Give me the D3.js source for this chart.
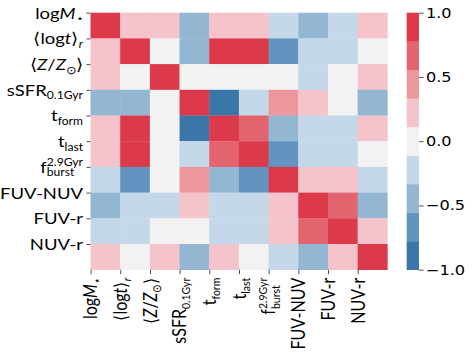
<!DOCTYPE html>
<html>
<head>
<meta charset="utf-8">
<script src="https://cdn.jsdelivr.net/npm/d3@7"></script>
<style>
  body { margin: 0; background: #fff; }
  svg { display: block; }
</style>
</head>
<body>
<div id="chart"></div>
<script>
// labels, as pieces: [text, kind]  kind: i = italic, sub / isub = subscript, sup = superscript over the previous subscript
const labels = [
  [["log"], ["M", "i"], ["\u22c6", "sub"]],
  [["\u27e8log"], ["t", "i"], ["\u27e9"], ["r", "isub"]],
  [["\u27e8"], ["Z", "i"], ["/"], ["Z", "i"], ["\u2299", "sub"], ["\u27e9"]],
  [["sSFR"], ["0.1Gyr", "sub"]],
  [["t"], ["form", "sub"]],
  [["t"], ["last", "sub"]],
  [["f"], ["burst", "sub"], ["2.9Gyr", "sup"]],
  [["FUV-NUV"]],
  [["FUV-r"]],
  [["NUV-r"]]
];

const corr = [
  [ 1.00,  0.28,  0.26, -0.45,  0.30,  0.27, -0.22, -0.42, -0.24,  0.29],
  [ 0.28,  1.00,  0.05, -0.47,  0.85,  0.88, -0.62, -0.25, -0.20,  0.06],
  [ 0.26,  0.05,  1.00,  0.03, -0.02,  0.01,  0.04, -0.18,  0.08,  0.25],
  [-0.45, -0.47,  0.03,  1.00, -0.86, -0.26,  0.50,  0.30,  0.04, -0.42],
  [ 0.30,  0.85, -0.02, -0.86,  1.00,  0.72, -0.44, -0.20, -0.21,  0.27],
  [ 0.27,  0.88,  0.01, -0.26,  0.72,  1.00, -0.64, -0.22, -0.20,  0.09],
  [-0.22, -0.62,  0.04,  0.50, -0.44, -0.64,  1.00,  0.26,  0.24, -0.20],
  [-0.42, -0.25, -0.18,  0.30, -0.20, -0.22,  0.26,  1.00,  0.70, -0.46],
  [-0.24, -0.20,  0.08,  0.04, -0.21, -0.20,  0.24,  0.70,  1.00,  0.30],
  [ 0.29,  0.06,  0.25, -0.42,  0.27,  0.09, -0.20, -0.46,  0.30,  1.00]
];

const cbTicks = [-1, -0.5, 0, 0.5, 1];

const palette = ['#3b76a8', '#6394bf', '#93b6d2', '#c5d8e9', '#f2f2f2',
                 '#f5c4cb', '#ec969e', '#e2646f', '#dc3a4b'];

const W = 474, H = 361;
const S = 1.155;           // picture is stretched sideways
const padL = 78.35, padT = 12.7, cell = 25.7;
const n = labels.length;

const svg = d3.select("#chart").append("svg")
    .attr("width", W)
    .attr("height", H);

const g = svg.append("g").attr("transform", `scale(${S},1)`);

const x = d3.scaleLinear().domain([0, n]).range([padL, padL + n * cell]);
const y = d3.scaleLinear().domain([0, n]).range([padT, padT + n * cell]);
const color = d3.scaleQuantize().domain([-1, 1]).range(palette);

// cells
const cells = [];
corr.forEach((row, i) => row.forEach((v, j) => cells.push({i, j, v})));

g.append("g").selectAll("rect")
  .data(cells)
  .join("rect")
    .attr("x", d => x(d.j))
    .attr("y", d => y(d.i))
    .attr("width", x(1) - x(0) + 0.3)
    .attr("height", y(1) - y(0) + 0.3)
    .attr("fill", d => color(d.v));

function writeLabel(text, segs) {
  text.text(null);
  let shift = 0, prevW = 0;
  segs.forEach(([s, k]) => {
    const ts = text.append("tspan").text(s);
    let target = 0;
    if (k === "i") ts.style("font-style", "italic");
    if (k === "sub" || k === "isub") { target = 3.5; ts.style("font-size", "10.5px"); }
    if (k === "isub") ts.style("font-style", "italic");
    if (k === "sup") { target = -7; ts.style("font-size", "10.5px"); ts.attr("dx", -prevW); }
    if (target !== shift) ts.attr("dy", target - shift);
    shift = target;
    prevW = (k === "sub" || k === "isub") ? ts.node().getComputedTextLength() : 0;
  });
}

// y axis (ticks sit on the top edge of each row)
const yAxis = g.append("g")
  .attr("transform", `translate(${padL},0)`)
  .call(d3.axisLeft(y).tickValues(d3.range(n)).tickSize(3.5).tickPadding(3));
yAxis.select(".domain").remove();
yAxis.selectAll("line").attr("stroke", "#333").attr("stroke-width", 0.8);
yAxis.selectAll("text")
  .style("font-family", "Lato, sans-serif")
  .style("font-size", "16px")
  .attr("fill", "#000")
  .attr("dy", "0.34em")
  .each(function(d) { writeLabel(d3.select(this), labels[d]); });

// x axis (ticks sit on the left edge of each column)
const xAxis = g.append("g")
  .attr("transform", `translate(0,${padT + n * cell})`)
  .call(d3.axisBottom(x).tickValues(d3.range(n)).tickSize(4.5).tickPadding(3));
xAxis.select(".domain").remove();
xAxis.selectAll("line").attr("stroke", "#333").attr("stroke-width", 0.8);
xAxis.selectAll("text")
  .style("font-family", "Lato, sans-serif")
  .style("font-size", "16px")
  .attr("fill", "#000")
  .attr("text-anchor", "end")
  .attr("transform", "rotate(-90)")
  .attr("x", -8)
  .attr("y", 0)
  .attr("dy", "0.34em")
  .each(function(d) { writeLabel(d3.select(this), labels[d]); });

// colour bar
const cbX = 352.1, cbW = 10.65;
const cy = d3.scaleLinear().domain([-1, 1]).range([padT + n * cell, padT]);
const step = 2 / palette.length;

g.append("g").selectAll("rect")
  .data(palette)
  .join("rect")
    .attr("x", cbX)
    .attr("y", (c, k) => cy(-1 + (k + 1) * step))
    .attr("width", cbW)
    .attr("height", (c, k) => cy(-1 + k * step) - cy(-1 + (k + 1) * step) + 0.3)
    .attr("fill", c => c);

const cAxis = g.append("g")
  .attr("transform", `translate(${cbX + cbW},0)`)
  .call(d3.axisRight(cy).tickValues(cbTicks).tickFormat(d3.format(".1f")).tickSize(4).tickPadding(2));
cAxis.select(".domain").remove();
cAxis.selectAll("line").attr("stroke", "#333").attr("stroke-width", 0.8);
cAxis.selectAll("text")
  .style("font-family", "'DejaVu Sans', sans-serif")
  .style("font-size", "14px")
  .attr("fill", "#000");
</script>
</body>
</html>
